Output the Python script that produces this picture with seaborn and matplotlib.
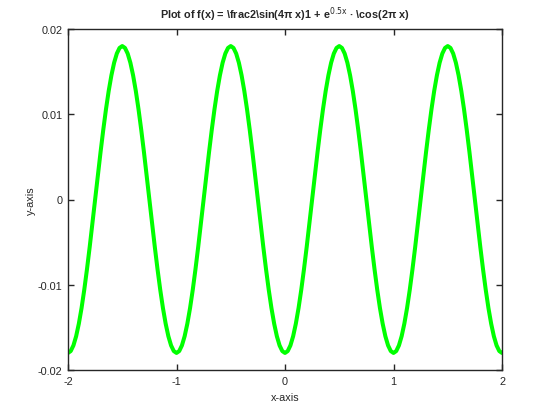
import matplotlib
matplotlib.use("Agg")
import matplotlib.pyplot as plt
import pandas as pd
import seaborn as sns

# x samples (step 0.025) and y values
x_vals = [round(-2 + 0.025 * i, 3) for i in range(161)]
one_period = [
    -0.01800, -0.01778, -0.01712, -0.01604, -0.01456,
    -0.01273, -0.01058, -0.00817, -0.00556, -0.00282,
    0.00000, 0.00282, 0.00556, 0.00817, 0.01058,
    0.01273, 0.01456, 0.01604, 0.01712, 0.01778,
    0.01800, 0.01778, 0.01712, 0.01604, 0.01456,
    0.01273, 0.01058, 0.00817, 0.00556, 0.00282,
    0.00000, -0.00282, -0.00556, -0.00817, -0.01058,
    -0.01273, -0.01456, -0.01604, -0.01712, -0.01778,
]
y_vals = one_period * 4 + [-0.01800]

x_ticks = [-2, -1, 0, 1, 2]
y_ticks = [-0.02, -0.01, 0, 0.01, 0.02]
y_tick_labels = ["-0.02", "-0.01", "0", "0.01", "0.02"]

df = pd.DataFrame({"x": x_vals, "y": y_vals})

sns.set_style("ticks")
plt.rcParams["font.family"] = ["Liberation Sans", "DejaVu Sans"]

fig = plt.figure(figsize=(5.44, 4.10), dpi=100)
ax = fig.add_axes([68 / 544, 39 / 410, 434 / 544, 341 / 410])

sns.lineplot(data=df, x="x", y="y", ax=ax, color="#00ff00", linewidth=2.9)

ax.set_xlim(-2, 2)
ax.set_ylim(-0.02, 0.02)
ax.set_xticks(x_ticks)
ax.set_xticklabels([str(t) for t in x_ticks])
ax.set_yticks(y_ticks)
ax.set_yticklabels(y_tick_labels)
ax.tick_params(direction="in", length=4, width=1, top=True, right=True,
               labelsize=7.8, colors="#262626", pad=4)
for s in ax.spines.values():
    s.set_visible(True)
    s.set_color("#262626")
    s.set_linewidth(1)

ax.set_xlabel("x-axis", fontsize=7.8, color="#262626", labelpad=5)
ax.set_ylabel("y-axis", fontsize=7.8, color="#262626", labelpad=1)
ax.set_title(r"Plot of f(x) = \frac2\sin(4π x)1 + e$^{\mathrm{0.5x}}$ · \cos(2π x)",
             fontsize=7.8, fontweight="bold", pad=8)

fig.savefig("out.png", dpi=100)
